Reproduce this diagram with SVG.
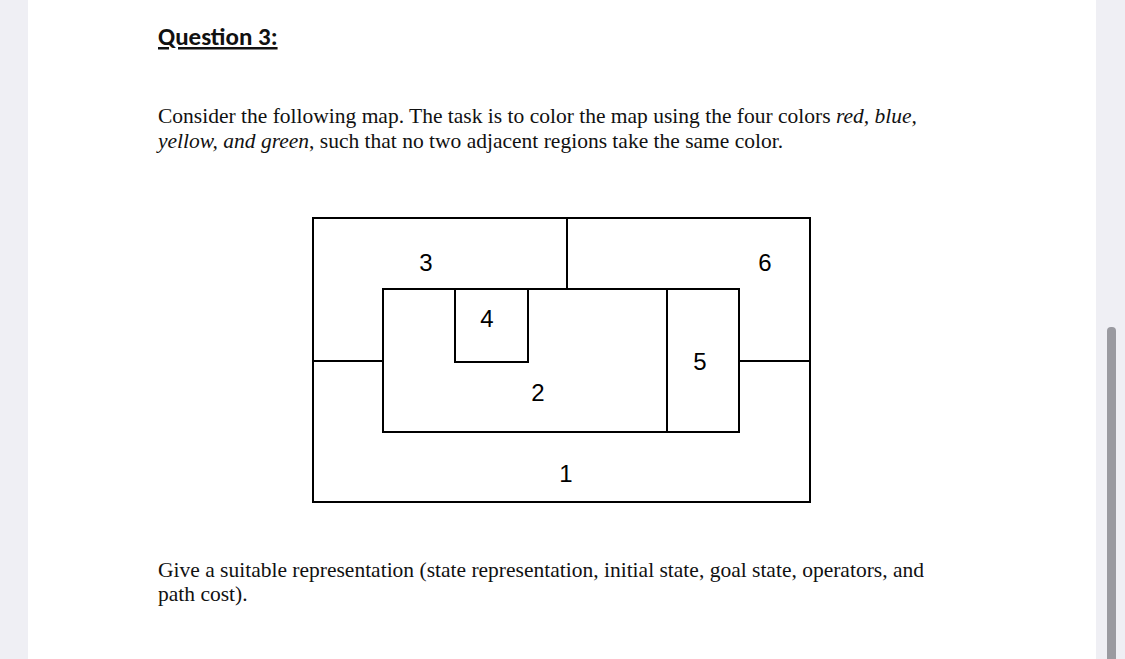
<svg xmlns="http://www.w3.org/2000/svg" width="1125" height="659" viewBox="0 0 1125 659">
<style>
.ln{fill:none;stroke:#000;stroke-width:2}
.num{font-family:"Liberation Sans",Arial,sans-serif;font-size:24px;fill:#000;text-anchor:middle}
.body{font-family:"Liberation Serif","Times New Roman",serif;font-size:21.5px;fill:#111}
</style>
<rect x="0" y="0" width="1125" height="659" fill="#fff"/>
<rect x="0" y="0" width="28" height="659" fill="#efeff4"/>
<rect x="1096" y="0" width="29" height="659" fill="#efeff4"/>
<rect x="1107" y="327" width="9" height="340" rx="4" fill="#9a9aa0"/>
<text x="158" y="45" font-family="Carlito,Calibri,'Liberation Sans',sans-serif" font-size="25" font-weight="bold" fill="#111" text-decoration="underline">Question 3:</text>
<text class="body" x="158" y="123">Consider the following map. The task is to color the map using the four colors <tspan font-style="italic">red, blue,</tspan></text>
<text class="body" x="158" y="148"><tspan font-style="italic">yellow, and green</tspan>, such that no two adjacent regions take the same color.</text>
<g id="connectors">
<rect class="ln" x="313" y="218" width="497" height="284"/>
<line class="ln" x1="567" y1="218" x2="567" y2="289"/>
<rect class="ln" x="383" y="289" width="356" height="143"/>
<line class="ln" x1="667" y1="289" x2="667" y2="432"/>
<line class="ln" x1="313" y1="361" x2="383" y2="361"/>
<line class="ln" x1="739" y1="361" x2="810" y2="361"/>
</g>
<g id="r4"><rect class="ln" x="455" y="289" width="73" height="73"/><text class="num" x="487" y="327">4</text></g>
<g id="r3"><text class="num" x="426" y="271">3</text></g>
<g id="r6"><text class="num" x="765" y="271">6</text></g>
<g id="r5"><text class="num" x="700" y="370">5</text></g>
<g id="r2"><text class="num" x="538" y="401">2</text></g>
<g id="r1"><text class="num" x="566" y="482">1</text></g>
<text class="body" x="158" y="577">Give a suitable representation (state representation, initial state, goal state, operators, and</text>
<text class="body" x="158" y="601">path cost).</text>
</svg>
